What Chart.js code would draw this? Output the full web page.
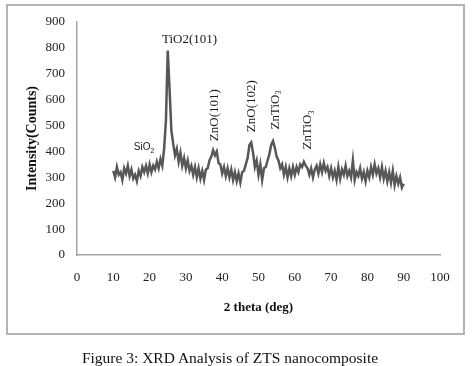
<!DOCTYPE html>
<html>
<head>
<meta charset="utf-8">
<script src="https://cdn.jsdelivr.net/npm/chart.js@4/dist/chart.umd.min.js"></script>
<style>
  html, body { margin: 0; padding: 0; background: #fff; }
  #wrap { position: relative; width: 474px; height: 366px; }
  #xrd { position: absolute; left: 0; top: 0; }
  #frame {
    position: absolute; left: 6px; top: 4px; width: 459px; height: 331px;
    box-sizing: border-box; border: 2px solid #b4b4b4; pointer-events: none;
  }
  #caption {
    position: absolute; left: 0; width: 460px; top: 349px; text-align: center;
    font: 15.5px "Liberation Serif", serif; color: #111;
  }
</style>
</head>
<body>
<div id="wrap">
  <canvas id="xrd" width="474" height="366"></canvas>
  <div id="frame"></div>
  <div id="caption">Figure 3: XRD Analysis of ZTS nanocomposite</div>
</div>
<script>
"use strict";

// 2 theta sampled every 0.5 deg from 10 to 90
var START_ANGLE = 10;
var STEP = 0.5;
var intensity = [
  325, 300, 340, 310, 320, 290, 335, 315, 345, 305,
  330, 295, 310, 285, 325, 305, 340, 320, 345, 315,
  350, 320, 345, 330, 360, 335, 370, 345, 410, 520,
  790, 640, 480, 430, 385, 410, 360, 395, 345, 375,
  335, 365, 325, 345, 310, 340, 300, 335, 295, 325,
  290, 330, 335, 365, 380, 405, 385, 400, 355, 350,
  315, 340, 305, 335, 300, 330, 290, 320, 285, 315,
  280, 320, 325, 350, 375, 425, 435, 395, 340, 365,
  310, 350, 290, 335, 340, 365, 390, 425, 440, 415,
  380, 365, 335, 350, 310, 340, 300, 335, 305, 340,
  310, 340, 320, 350, 340, 360, 345, 335, 310, 335,
  300, 330, 345, 315, 350, 320, 355, 325, 340, 305,
  335, 300, 325, 290, 340, 295, 330, 310, 345, 305,
  325, 300, 365, 290, 320, 305, 335, 295, 320, 285,
  325, 300, 340, 310, 350, 315, 335, 300, 340, 295,
  325, 285, 320, 280, 325, 270, 305, 275, 300, 260,
  275
];

var xTicks = [0, 10, 20, 30, 40, 50, 60, 70, 80, 90, 100];
var yTicks = [0, 100, 200, 300, 400, 500, 600, 700, 800, 900];

var peakLabels = ["SiO", "TiO2(101)", "ZnO(101)", "ZnO(102)", "ZnTiO", "ZnTiO"];
var peakSubs = ["2", "", "", "", "3", "3"];
var labelTheta = [18.5, 31, 38, 48.2, 54.6, 63.6];
var labelIntensity = [417, 834, 540, 575, 560, 483];
var labelRotated = [false, false, true, true, true, true];

var points = intensity.map(function (v, i) {
  return { x: START_ANGLE + i * STEP, y: v };
});

var peakLabelPlugin = {
  id: "peakLabels",
  afterDatasetsDraw: function (chart) {
    var ctx = chart.ctx;
    var xs = chart.scales.x;
    var ys = chart.scales.y;
    peakLabels.forEach(function (txt, i) {
      var px = xs.getPixelForValue(labelTheta[i]);
      var py = ys.getPixelForValue(labelIntensity[i]);
      var mainFont = i === 0 ? '10px "Liberation Sans", sans-serif' : '13px "Liberation Serif", serif';
      var subFont = i === 0 ? '7px "Liberation Sans", sans-serif' : '8px "Liberation Serif", serif';
      ctx.save();
      ctx.fillStyle = "#1a1a1a";
      ctx.textBaseline = "middle";
      ctx.font = mainFont;
      var w = ctx.measureText(txt).width;
      ctx.font = subFont;
      var sw = peakSubs[i] ? ctx.measureText(peakSubs[i]).width : 0;
      ctx.translate(px, py);
      if (labelRotated[i]) ctx.rotate(-Math.PI / 2);
      var start = -(w + sw) / 2;
      ctx.textAlign = "left";
      ctx.font = mainFont;
      ctx.fillText(txt, start, 0);
      if (peakSubs[i]) {
        ctx.font = subFont;
        ctx.fillText(peakSubs[i], start + w, 4);
      }
      ctx.restore();
    });
  },
};

var tickFont = { family: '"Liberation Serif", serif', size: 13 };
var axisColor = "#a4a4a4";

new Chart(document.getElementById("xrd"), {
  type: "line",
  data: {
    datasets: [
      {
        data: points,
        borderColor: "#575757",
        borderWidth: 2.5,
        pointRadius: 0,
        tension: 0,
        fill: false,
      },
    ],
  },
  options: {
    responsive: false,
    animation: false,
    events: [],
    layout: { padding: { top: 22, right: 34, left: 0, bottom: 0 } },
    plugins: {
      legend: { display: false },
      tooltip: { enabled: false },
    },
    scales: {
      x: {
        type: "linear",
        min: 0,
        max: 100,
        afterBuildTicks: function (scale) {
          scale.ticks = xTicks.map(function (v) { return { value: v }; });
        },
        afterFit: function (scale) { scale.height = 111; },
        grid: { display: false, drawTicks: false },
        border: { display: true, color: axisColor, width: 1.5 },
        ticks: { font: tickFont, color: "#222", padding: 15, maxRotation: 0, autoSkip: false },
        title: {
          display: true,
          text: "2 theta (deg)",
          font: { family: '"Liberation Serif", serif', size: 13, weight: "bold" },
          color: "#111",
          padding: { top: 0, bottom: 51 },
        },
      },
      y: {
        min: 0,
        max: 900,
        afterBuildTicks: function (scale) {
          scale.ticks = yTicks.map(function (v) { return { value: v }; });
        },
        afterFit: function (scale) { scale.width = 77; },
        grid: { display: false, drawTicks: false },
        border: { display: true, color: axisColor, width: 1.5 },
        ticks: { font: tickFont, color: "#222", padding: 12 },
        title: {
          display: true,
          text: "Intensity(Counts)",
          font: { family: '"Liberation Serif", serif', size: 14, weight: "bold" },
          color: "#111",
          padding: { top: 24, bottom: 0 },
        },
      },
    },
  },
  plugins: [peakLabelPlugin],
});
</script>
</body>
</html>
